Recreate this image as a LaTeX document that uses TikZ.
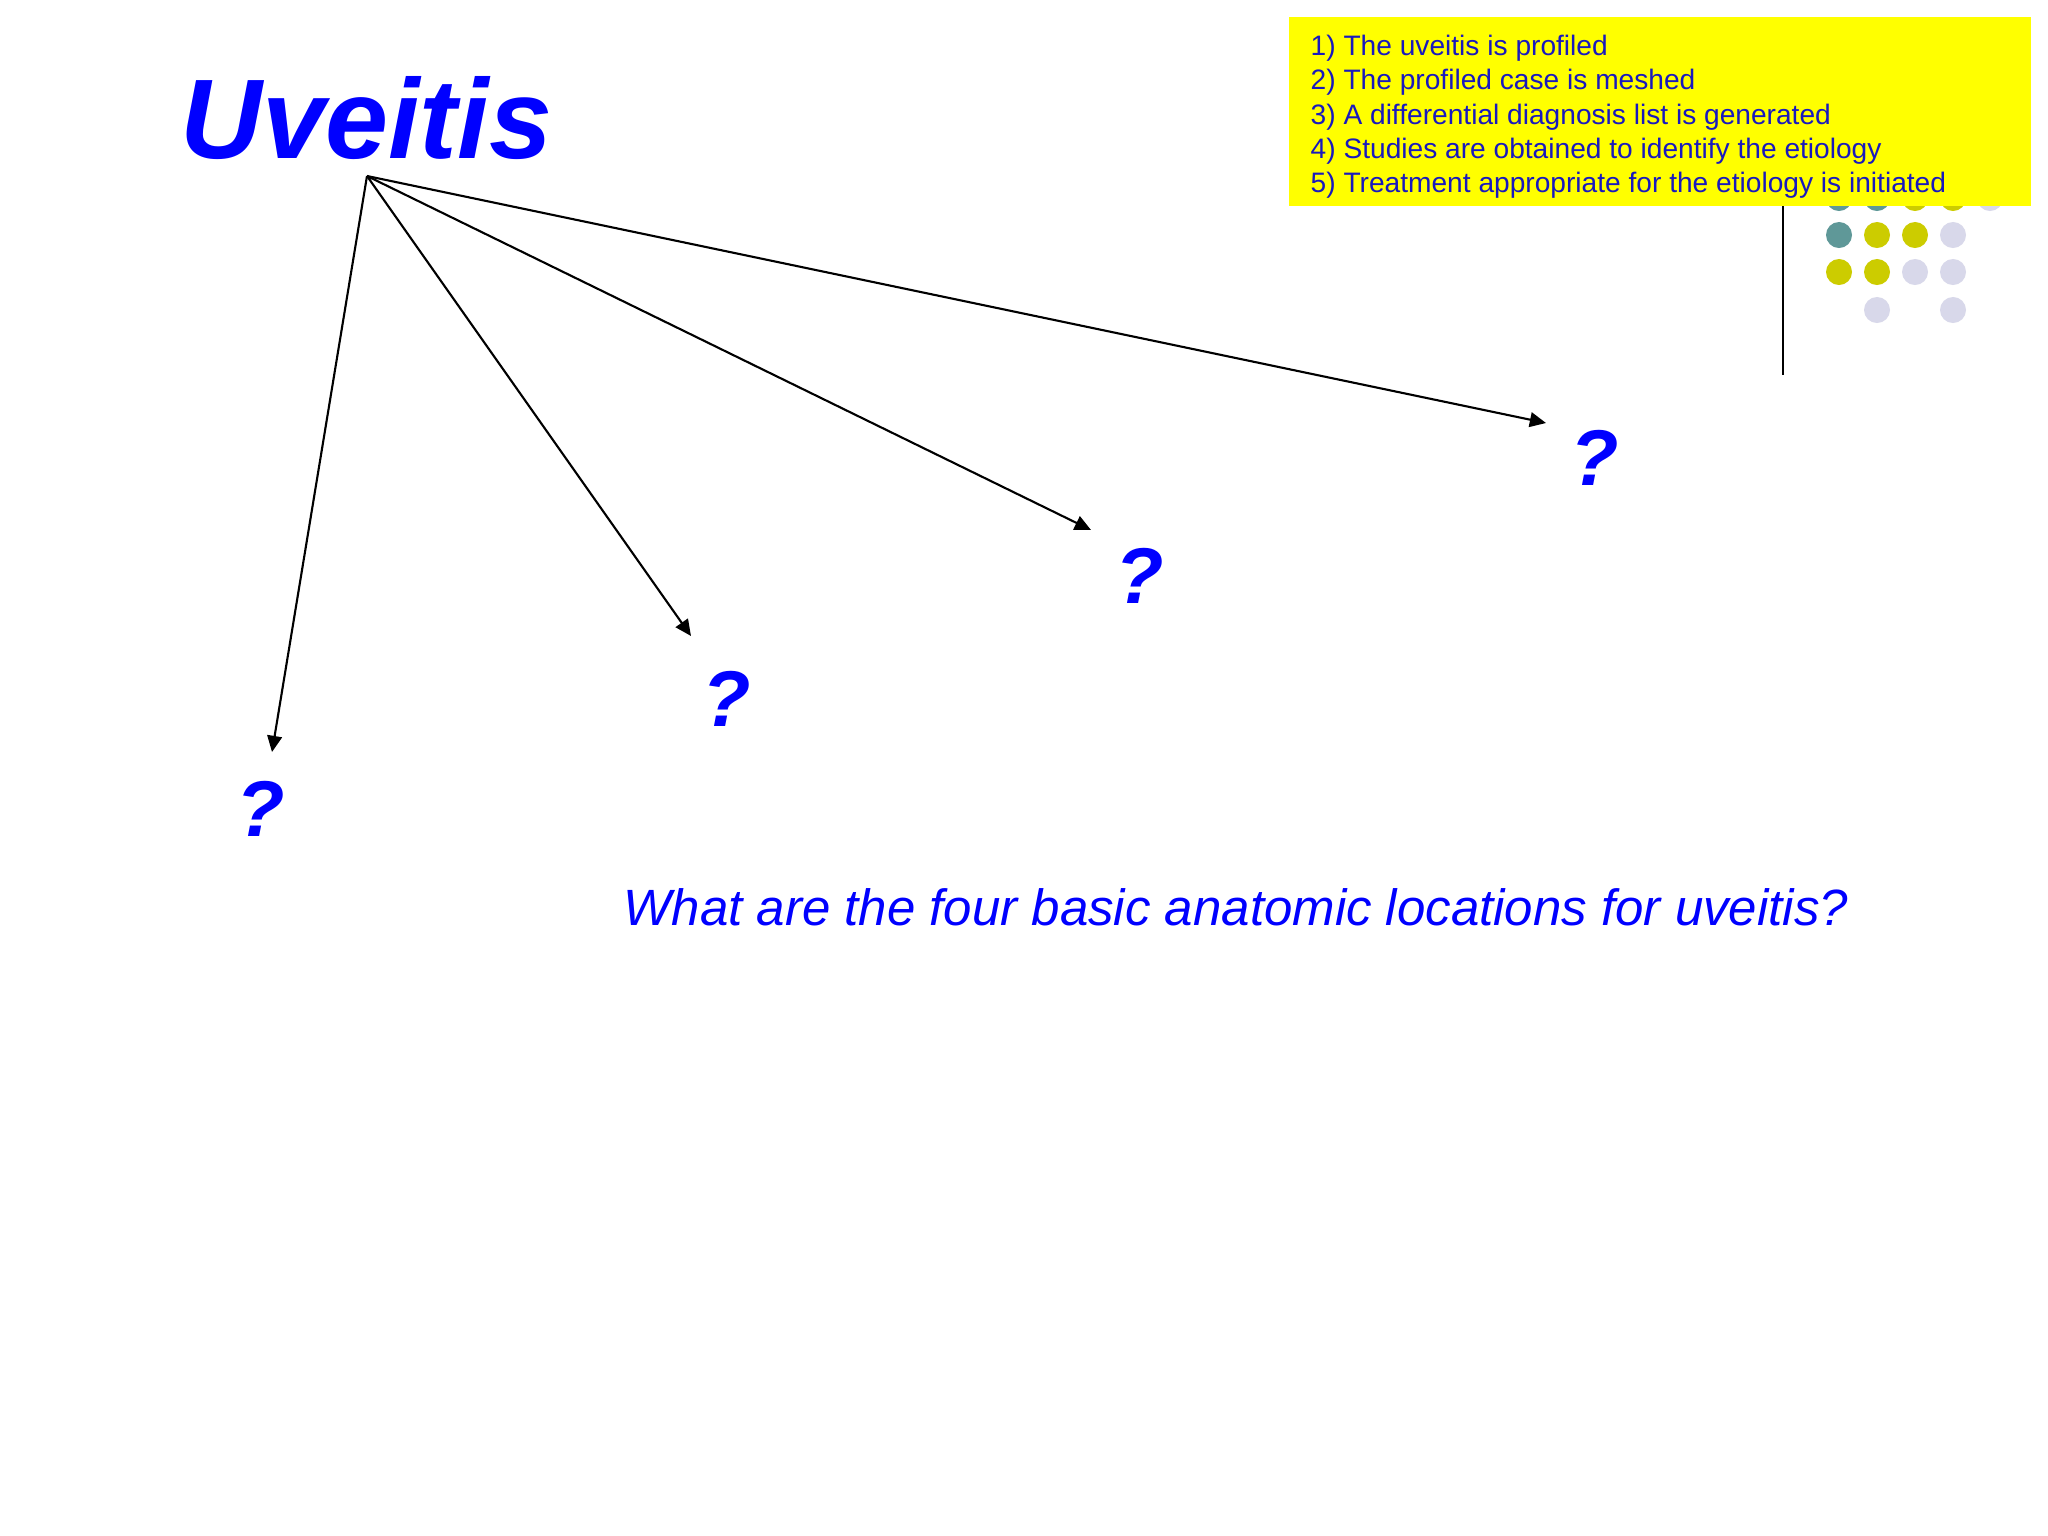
\documentclass[tikz,border=0pt]{standalone}
\usepackage{fontspec}
\setmainfont{Liberation Sans}
\usetikzlibrary{arrows.meta}
\definecolor{boxtext}{RGB}{25,25,190}
\definecolor{dotteal}{RGB}{95,152,152}
\definecolor{dotolive}{RGB}{204,204,0}
\definecolor{dotlav}{RGB}{216,216,234}
\definecolor{notebg}{RGB}{255,255,0}
\begin{document}
\begin{tikzpicture}[x=0.01cm,y=-0.01cm,
  arr/.style={-{Triangle[length=4.6pt,width=4.2pt]}, line width=0.6pt, black},
  qmark/.style={text=blue, font=\fontsize{22.5}{27}\selectfont\bfseries\itshape, inner sep=0pt},
  dotc/.style={circle, inner sep=0pt, minimum size=0.26cm},
  noteline/.style={anchor=base west, inner sep=0pt, text=boxtext, font=\fontsize{8.0}{9.7}\selectfont}]
\useasboundingbox (0,0) rectangle (2048,1536);
\fill[white] (0,0) rectangle (2048,1536);

% decorative line and dots (behind the note)
\draw[line width=0.6pt] (1783,150) -- (1783,375);
\foreach \x/\c in {1839/dotteal,1877/dotteal,1915/dotolive,1953/dotolive,1990/dotlav}
  \node[dotc, fill=\c] at (\x,198) {};
\foreach \x/\c in {1839/dotteal,1877/dotolive,1915/dotolive,1953/dotlav}
  \node[dotc, fill=\c] at (\x,235) {};
\foreach \x/\c in {1839/dotolive,1877/dotolive,1915/dotlav,1953/dotlav}
  \node[dotc, fill=\c] at (\x,272) {};
\foreach \x/\c in {1877/dotlav,1953/dotlav}
  \node[dotc, fill=\c] at (\x,310) {};

% yellow note
\fill[notebg] (1289,17) rectangle (2031,206);
\node[noteline] (l1) at (1310,55) {1) The uveitis is profiled};
\node[noteline] (l2) at (1310,89) {2) The profiled case is meshed};
\node[noteline] (l3) at (1310,124) {3) A differential diagnosis list is generated};
\node[noteline] (l4) at (1310,158) {4) Studies are obtained to identify the etiology};
\node[noteline] (l5) at (1310,192) {5) Treatment appropriate for the etiology is initiated};

% title
\node[anchor=base west, inner sep=0pt, text=blue, font=\fontsize{32.2}{39}\selectfont\bfseries\itshape] (title) at (180,158) {Uveitis};

% question marks
\node[qmark] (q1) at (261,809) {?};
\node[qmark] (q2) at (727,699) {?};
\node[qmark] (q3) at (1140,576) {?};
\node[qmark] (q4) at (1595,458) {?};

% arrows
\coordinate (o) at (367,176);
\coordinate (t1) at (272,752);
\coordinate (t2) at (691,636);
\coordinate (t3) at (1091,530);
\coordinate (t4) at (1546,423);
\draw[arr] (o) -- (t1);
\draw[arr] (o) -- (t2);
\draw[arr] (o) -- (t3);
\draw[arr] (o) -- (t4);

% question
\node[anchor=base west, inner sep=0pt, text=blue, font=\fontsize{14.5}{17}\selectfont\itshape] (question) at (623,925) {What are the four basic anatomic locations for uveitis?};
\end{tikzpicture}
\end{document}
